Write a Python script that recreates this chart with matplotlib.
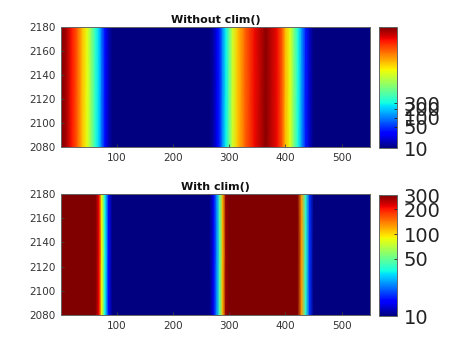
import numpy as np
import matplotlib
matplotlib.use("Agg")
import matplotlib.pyplot as plt
from matplotlib.colors import Normalize

# Column profile (x positions and values)
x_pos = [0.5, 10, 20, 30, 39, 47, 55, 62, 68, 73, 79, 85, 92, 100, 150, 200, 250,
         265, 272, 278, 283, 288, 294, 300, 306, 315, 328, 345, 365, 385, 395, 400,
         408, 415, 422, 429, 436, 443, 450, 460, 500, 550.5]
values = [100000, 70000, 35000, 16000, 6300, 3200, 1100, 400, 220, 90, 35, 16, 8, 4,
          2, 2, 3, 8, 14, 25, 45, 110, 280, 800, 2500, 6300, 16000, 40000, 90000,
          40000, 16000, 7000, 3200, 1000, 350, 125, 40, 18, 9, 5, 2.5, 2]
y_range = [2080, 2180]
cbar_ticks = [10, 50, 100, 200, 300]
top_max = 100000
clim_max = 300
titles = ["Without clim()", "With clim()"]
x_ticks = [100, 200, 300, 400, 500]
y_ticks = [2080, 2100, 2120, 2140, 2160, 2180]

W, H = 474, 355
fig = plt.figure(figsize=(W / 100, H / 100), dpi=100)

def box(l, t, r, b):
    return [l / W, 1 - b / H, (r - l) / W, (b - t) / H]

axes_boxes = [box(61, 27, 370, 147), box(61, 194, 370, 315)]
cbar_boxes = [box(379, 27, 397, 148), box(379, 195, 397, 316)]
vmaxes = [top_max, clim_max]

logv = np.log10(np.array(values, dtype=float))
X = np.array(x_pos, dtype=float)
Y = np.array(y_range, dtype=float)
C = np.vstack([logv, logv])

tick_col = "#444444"
for i in range(2):
    ax = fig.add_axes(axes_boxes[i])
    norm = Normalize(vmin=1, vmax=np.log10(vmaxes[i]), clip=True)
    m = ax.pcolormesh(X, Y, C, shading="gouraud", cmap="jet", norm=norm, rasterized=True)
    ax.set_xlim(0.5, 550.5)
    ax.set_ylim(2080, 2180)
    ax.set_xticks(x_ticks)
    ax.set_yticks(y_ticks)
    ax.tick_params(direction="in", length=2.5, width=0.6, labelsize=7.5,
                   colors=tick_col, labelcolor="#333333", pad=4)
    for s in ax.spines.values():
        s.set_color("#666666")
        s.set_linewidth(0.7)
    ax.set_title(titles[i], fontsize=8, fontweight="bold", pad=3, color="#111111")

    cax = fig.add_axes(cbar_boxes[i])
    cb = fig.colorbar(m, cax=cax)
    cb.set_ticks(np.log10(cbar_ticks))
    cb.set_ticklabels([str(t) for t in cbar_ticks])
    cax.tick_params(direction="in", length=2, width=0.6, labelsize=14,
                    colors="#222222", labelcolor="#222222", pad=5)
    cb.outline.set_edgecolor("#666666")
    cb.outline.set_linewidth(0.7)

fig.savefig("out.png", dpi=100)
